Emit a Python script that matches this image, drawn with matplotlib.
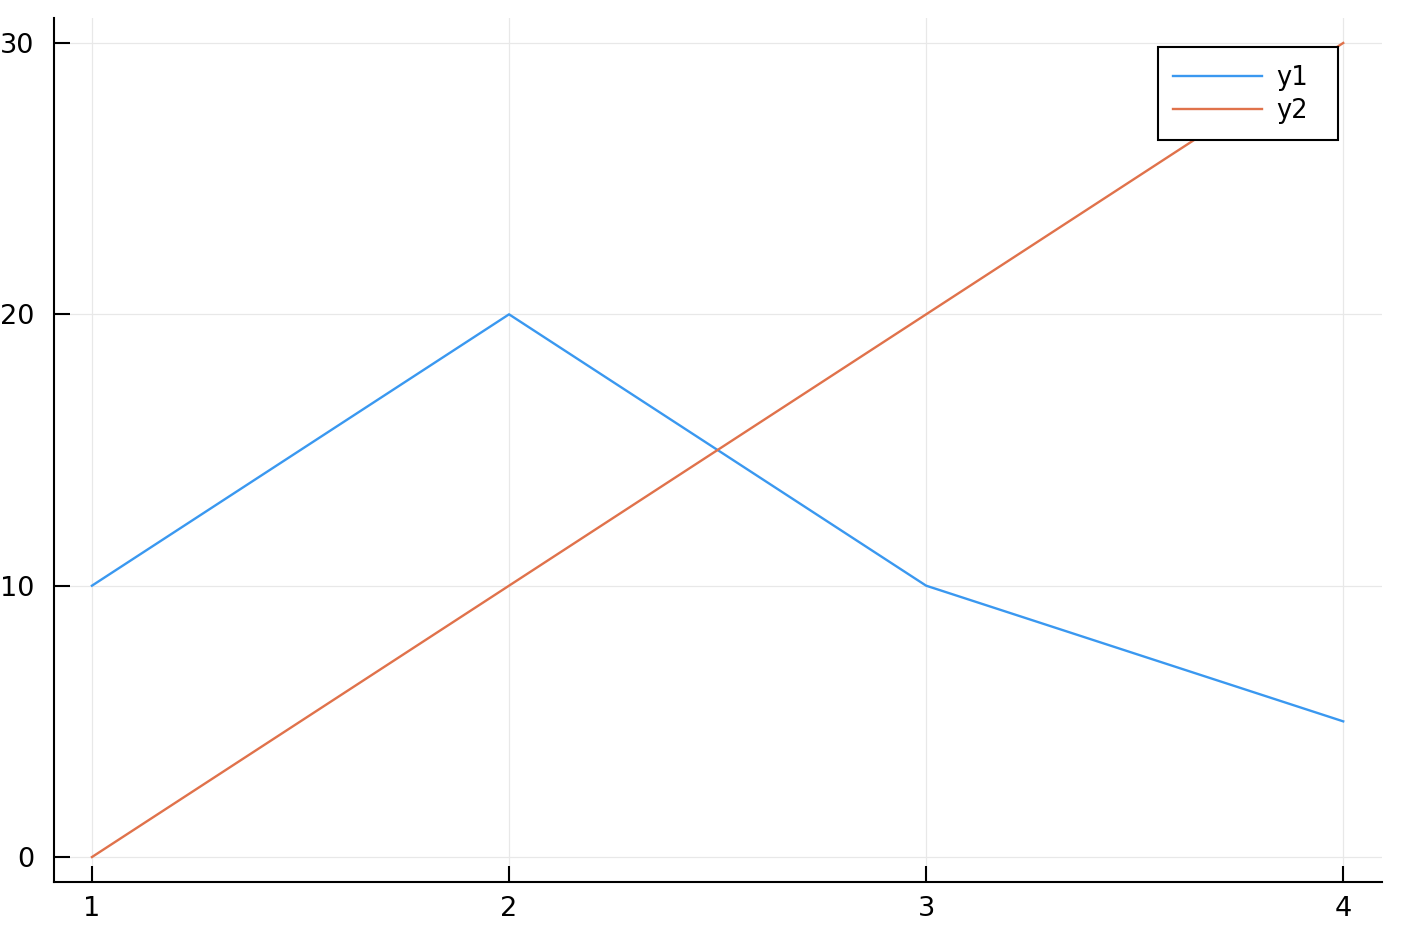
import matplotlib
matplotlib.use("Agg")
import matplotlib.pyplot as plt
from matplotlib.patches import Rectangle

x = [1, 2, 3, 4]
y1 = [10, 20, 10, 5]
y2 = [0, 10, 20, 30]
labels = ["y1", "y2"]
xticks = [1, 2, 3, 4]
yticks = [0, 10, 20, 30]

plt.rcParams['font.family'] = ['DejaVu Sans']
fs = 19.5
lfs = 18.5

fig = plt.figure(figsize=(14.14, 9.26), dpi=100)
ax = fig.add_axes([54/1414, 44/926, 1328/1414, 864/926])

ax.plot(x, y1, color='#3a98f0', lw=1.7, label=labels[0])
ax.plot(x, y2, color='#e0724b', lw=1.7, label=labels[1])

ax.set_xlim(0.909, 4.093)
ax.set_ylim(-0.92, 30.92)
ax.set_xticks(xticks)
ax.set_yticks(yticks)
ax.tick_params(direction='in', length=11.5, width=1.5, labelsize=fs)
ax.tick_params(axis='x', pad=10)
ax.tick_params(axis='y', pad=14)
ax.grid(True, color='#e8e8e8', lw=0.9)
ax.set_axisbelow(True)
for s in ['top', 'right']:
    ax.spines[s].set_visible(False)
for s in ['left', 'bottom']:
    ax.spines[s].set_linewidth(1.5)

def fx(px):
    return (px - 54) / 1328

def fy(py):
    return (882 - py) / 864

leg = ax.legend(loc='center left', bbox_to_anchor=(fx(1173), fy(94.5)),
                borderaxespad=0, fontsize=lfs, frameon=False,
                handlelength=89/(lfs*100/72), handletextpad=14/(lfs*100/72),
                labelspacing=0.25, borderpad=0)
ax.add_patch(Rectangle((fx(1158), fy(140)), fx(1338) - fx(1158), fy(47) - fy(140),
                       transform=ax.transAxes, facecolor='white', edgecolor='black',
                       lw=1.5, zorder=4, clip_on=False))
leg.set_zorder(5)

fig.savefig("out.png", dpi=100)
